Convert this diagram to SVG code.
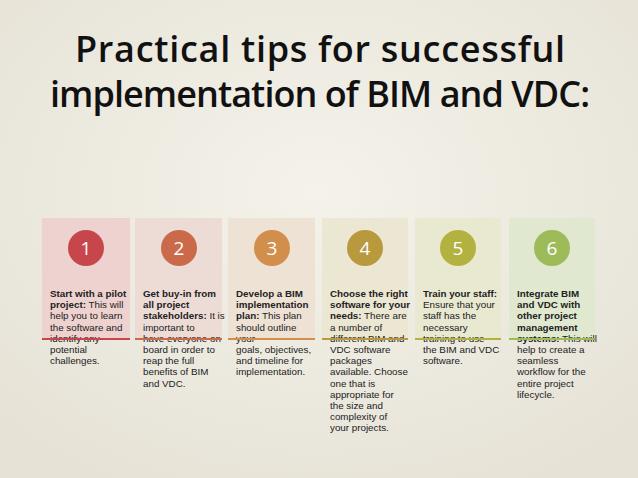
<svg xmlns="http://www.w3.org/2000/svg" width="638" height="478" viewBox="0 0 638 478">
<defs>
<radialGradient id="bg" cx="50%" cy="40%" r="70%"><stop offset="0" stop-color="#f4f2ea"/><stop offset="1" stop-color="#e6e2d6"/></radialGradient>
<style>
.t{font-family:"Liberation Sans",Arial,sans-serif;font-size:9.8px;fill:#222}
.b{font-weight:bold}
.n{font-family:"Open Sans","Liberation Sans",sans-serif;font-size:19px;fill:#fff;text-anchor:middle}
.h{font-family:"Open Sans","Liberation Sans",sans-serif;font-size:36px;font-weight:600;fill:#111;text-anchor:middle}
.ln{stroke-width:2}
</style>
</defs>
<rect width="638" height="478" fill="url(#bg)"/>
<g id="title"><text class="h" x="320" y="62" textLength="490">Practical tips for successful</text><text class="h" x="320" y="107" textLength="540">implementation of BIM and VDC:</text></g>
<g id="card1"><rect x="42" y="218" width="88" height="121" fill="#edd2cf"/><circle cx="86" cy="248" r="18" fill="#c7464b"/><text class="n" x="86" y="255">1</text>
<text class="t" x="50" y="297"><tspan class="b">Start with a pilot</tspan><tspan x="50" dy="11.2" class="b">project:</tspan> This will<tspan x="50" dy="11.2">help you to learn</tspan><tspan x="50" dy="11.2">the software and</tspan><tspan x="50" dy="11.2">identify any</tspan><tspan x="50" dy="11.2">potential</tspan><tspan x="50" dy="11.2">challenges.</tspan></text></g>
<g id="card2"><rect x="135" y="218" width="87" height="121" fill="#eddcd6"/><circle cx="179" cy="248" r="18" fill="#cb6a4b"/><text class="n" x="179" y="255">2</text>
<text class="t" x="143" y="297"><tspan class="b">Get buy-in from</tspan><tspan x="143" dy="11.2" class="b">all project</tspan><tspan x="143" dy="11.2" class="b">stakeholders:</tspan> It is<tspan x="143" dy="11.2">important to</tspan><tspan x="143" dy="11.2">have everyone on</tspan><tspan x="143" dy="11.2">board in order to</tspan><tspan x="143" dy="11.2">reap the full</tspan><tspan x="143" dy="11.2">benefits of BIM</tspan><tspan x="143" dy="11.2">and VDC.</tspan></text></g>
<g id="card3"><rect x="228" y="218" width="87" height="121" fill="#eee2d5"/><circle cx="272" cy="248" r="18" fill="#d18f4b"/><text class="n" x="272" y="255">3</text>
<text class="t" x="236" y="297"><tspan class="b">Develop a BIM</tspan><tspan x="236" dy="11.2" class="b">implementation</tspan><tspan x="236" dy="11.2" class="b">plan:</tspan> This plan<tspan x="236" dy="11.2">should outline</tspan><tspan x="236" dy="11.2">your</tspan><tspan x="236" dy="11.2">goals, objectives,</tspan><tspan x="236" dy="11.2">and timeline for</tspan><tspan x="236" dy="11.2">implementation.</tspan></text></g>
<g id="card4"><rect x="322" y="218" width="86" height="121" fill="#ece7d2"/><circle cx="365" cy="248" r="18" fill="#b8993e"/><text class="n" x="365" y="255">4</text>
<text class="t" x="330" y="297"><tspan class="b">Choose the right</tspan><tspan x="330" dy="11.2" class="b">software for your</tspan><tspan x="330" dy="11.2" class="b">needs:</tspan> There are<tspan x="330" dy="11.2">a number of</tspan><tspan x="330" dy="11.2">different BIM and</tspan><tspan x="330" dy="11.2">VDC software</tspan><tspan x="330" dy="11.2">packages</tspan><tspan x="330" dy="11.2">available. Choose</tspan><tspan x="330" dy="11.2">one that is</tspan><tspan x="330" dy="11.2">appropriate for</tspan><tspan x="330" dy="11.2">the size and</tspan><tspan x="330" dy="11.2">complexity of</tspan><tspan x="330" dy="11.2">your projects.</tspan></text></g>
<g id="card5"><rect x="415" y="218" width="86" height="121" fill="#e9e9d1"/><circle cx="458" cy="248" r="18" fill="#b3b13f"/><text class="n" x="458" y="255">5</text>
<text class="t" x="423" y="297"><tspan class="b">Train your staff:</tspan><tspan x="423" dy="11.2">Ensure that your</tspan><tspan x="423" dy="11.2">staff has the</tspan><tspan x="423" dy="11.2">necessary</tspan><tspan x="423" dy="11.2">training to use</tspan><tspan x="423" dy="11.2">the BIM and VDC</tspan><tspan x="423" dy="11.2">software.</tspan></text></g>
<g id="card6"><rect x="509" y="218" width="86" height="121" fill="#e0e9cf"/><circle cx="552" cy="248" r="18" fill="#9dbb59"/><text class="n" x="552" y="255">6</text>
<text class="t" x="517" y="297"><tspan class="b">Integrate BIM</tspan><tspan x="517" dy="11.2" class="b">and VDC with</tspan><tspan x="517" dy="11.2" class="b">other project</tspan><tspan x="517" dy="11.2" class="b">management</tspan><tspan x="517" dy="11.2" class="b">systems:</tspan> This will<tspan x="517" dy="11.2">help to create a</tspan><tspan x="517" dy="11.2">seamless</tspan><tspan x="517" dy="11.2">workflow for the</tspan><tspan x="517" dy="11.2">entire project</tspan><tspan x="517" dy="11.2">lifecycle.</tspan></text></g>
<g id="connectors">
<line class="ln" x1="42" y1="339" x2="130" y2="339" stroke="#c7464b"/>
<line class="ln" x1="135" y1="339" x2="222" y2="339" stroke="#cb6a4b"/>
<line class="ln" x1="228" y1="339" x2="315" y2="339" stroke="#d18f4b"/>
<line class="ln" x1="322" y1="339" x2="408" y2="339" stroke="#b8993e"/>
<line class="ln" x1="415" y1="339" x2="501" y2="339" stroke="#b3b13f"/>
<line class="ln" x1="509" y1="339" x2="595" y2="339" stroke="#9dbb59"/>
</g>
</svg>
